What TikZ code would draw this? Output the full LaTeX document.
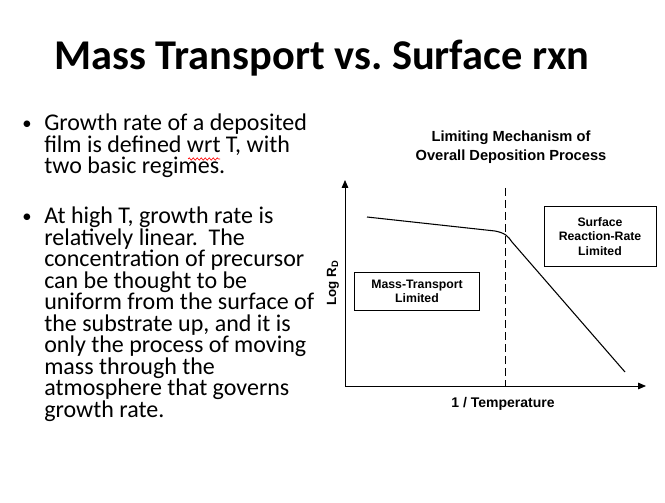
\documentclass[tikz,border=0pt]{standalone}
\usepackage{fontspec}
\setmainfont{Carlito}
\newfontfamily\arial{Liberation Sans}
\usetikzlibrary{decorations.pathmorphing,arrows.meta}
\frenchspacing
\begin{document}
\begin{tikzpicture}[x=0.75pt,y=-0.75pt,
  body/.style={anchor=north west,align=left,inner sep=0pt,font=\fontsize{18}{16.1}\selectfont},
  gtxt/.style={font=\arial\bfseries\fontsize{9.2}{11}\selectfont,align=center,inner sep=0pt},
  lbox/.style={draw,line width=0.6pt,gtxt,inner sep=0pt}]
\useasboundingbox (0,0) rectangle (665,503);
\node[font=\bfseries\fontsize{31.8}{34}\selectfont] (title) at (322,58) {Mass Transport vs. Surface rxn};
\node[font=\fontsize{14}{14}\selectfont] (b1) at (27,125) {•};
\node[font=\fontsize{14}{14}\selectfont] (b2) at (27,218) {•};
\node[body] (t1) at (44,114) {Growth rate of a deposited\\film is defined wrt T, with\\two basic regimes.};
\node[body] (t2) at (44,207) {At high T, growth rate is\\relatively linear.\ \ The\\concentration of precursor\\can be thought to be\\uniform from the surface of\\the substrate up, and it is\\only the process of moving\\mass through the\\atmosphere that governs\\growth rate.};
\draw[red,line width=0.5pt,decorate,decoration={snake,amplitude=0.8,segment length=3}] (188,159) -- (220,159);
% graph
\node[gtxt,font=\arial\bfseries\fontsize{11}{14}\selectfont] (gt) at (511,147) {Limiting Mechanism of\\Overall Deposition Process};
\coordinate (o) at (345,386);
\coordinate (yt) at (345,180);
\coordinate (xt) at (646,386);
\draw[line width=0.6pt,-{Triangle[length=6pt,width=5pt]}] (o) -- (yt);
\draw[line width=0.6pt,-{Triangle[length=6pt,width=5pt]}] (o) -- (xt);
\coordinate (d1) at (505,188);
\coordinate (d2) at (505,386);
\draw[dash pattern=on 6pt off 3pt,line width=0.5pt] (d1) -- (d2);
\draw[line width=0.8pt] (367,217) -- (495,231) .. controls (505,233) and (508,236) .. (512,242) -- (625,372);
\node[lbox,minimum width=94,minimum height=29] (mt) at (417,291.5) {Mass-Transport\\Limited};
\node[lbox,minimum width=84,minimum height=45] (sr) at (600,236.5) {Surface\\Reaction-Rate\\Limited};
\node[gtxt,rotate=90,font=\arial\bfseries\fontsize{10}{12}\selectfont] (yl) at (333,283) {Log R\textsubscript{D}};
\node[gtxt,font=\arial\bfseries\fontsize{10.5}{12}\selectfont] (xl) at (503,404) {1 / Temperature};
\end{tikzpicture}
\end{document}
